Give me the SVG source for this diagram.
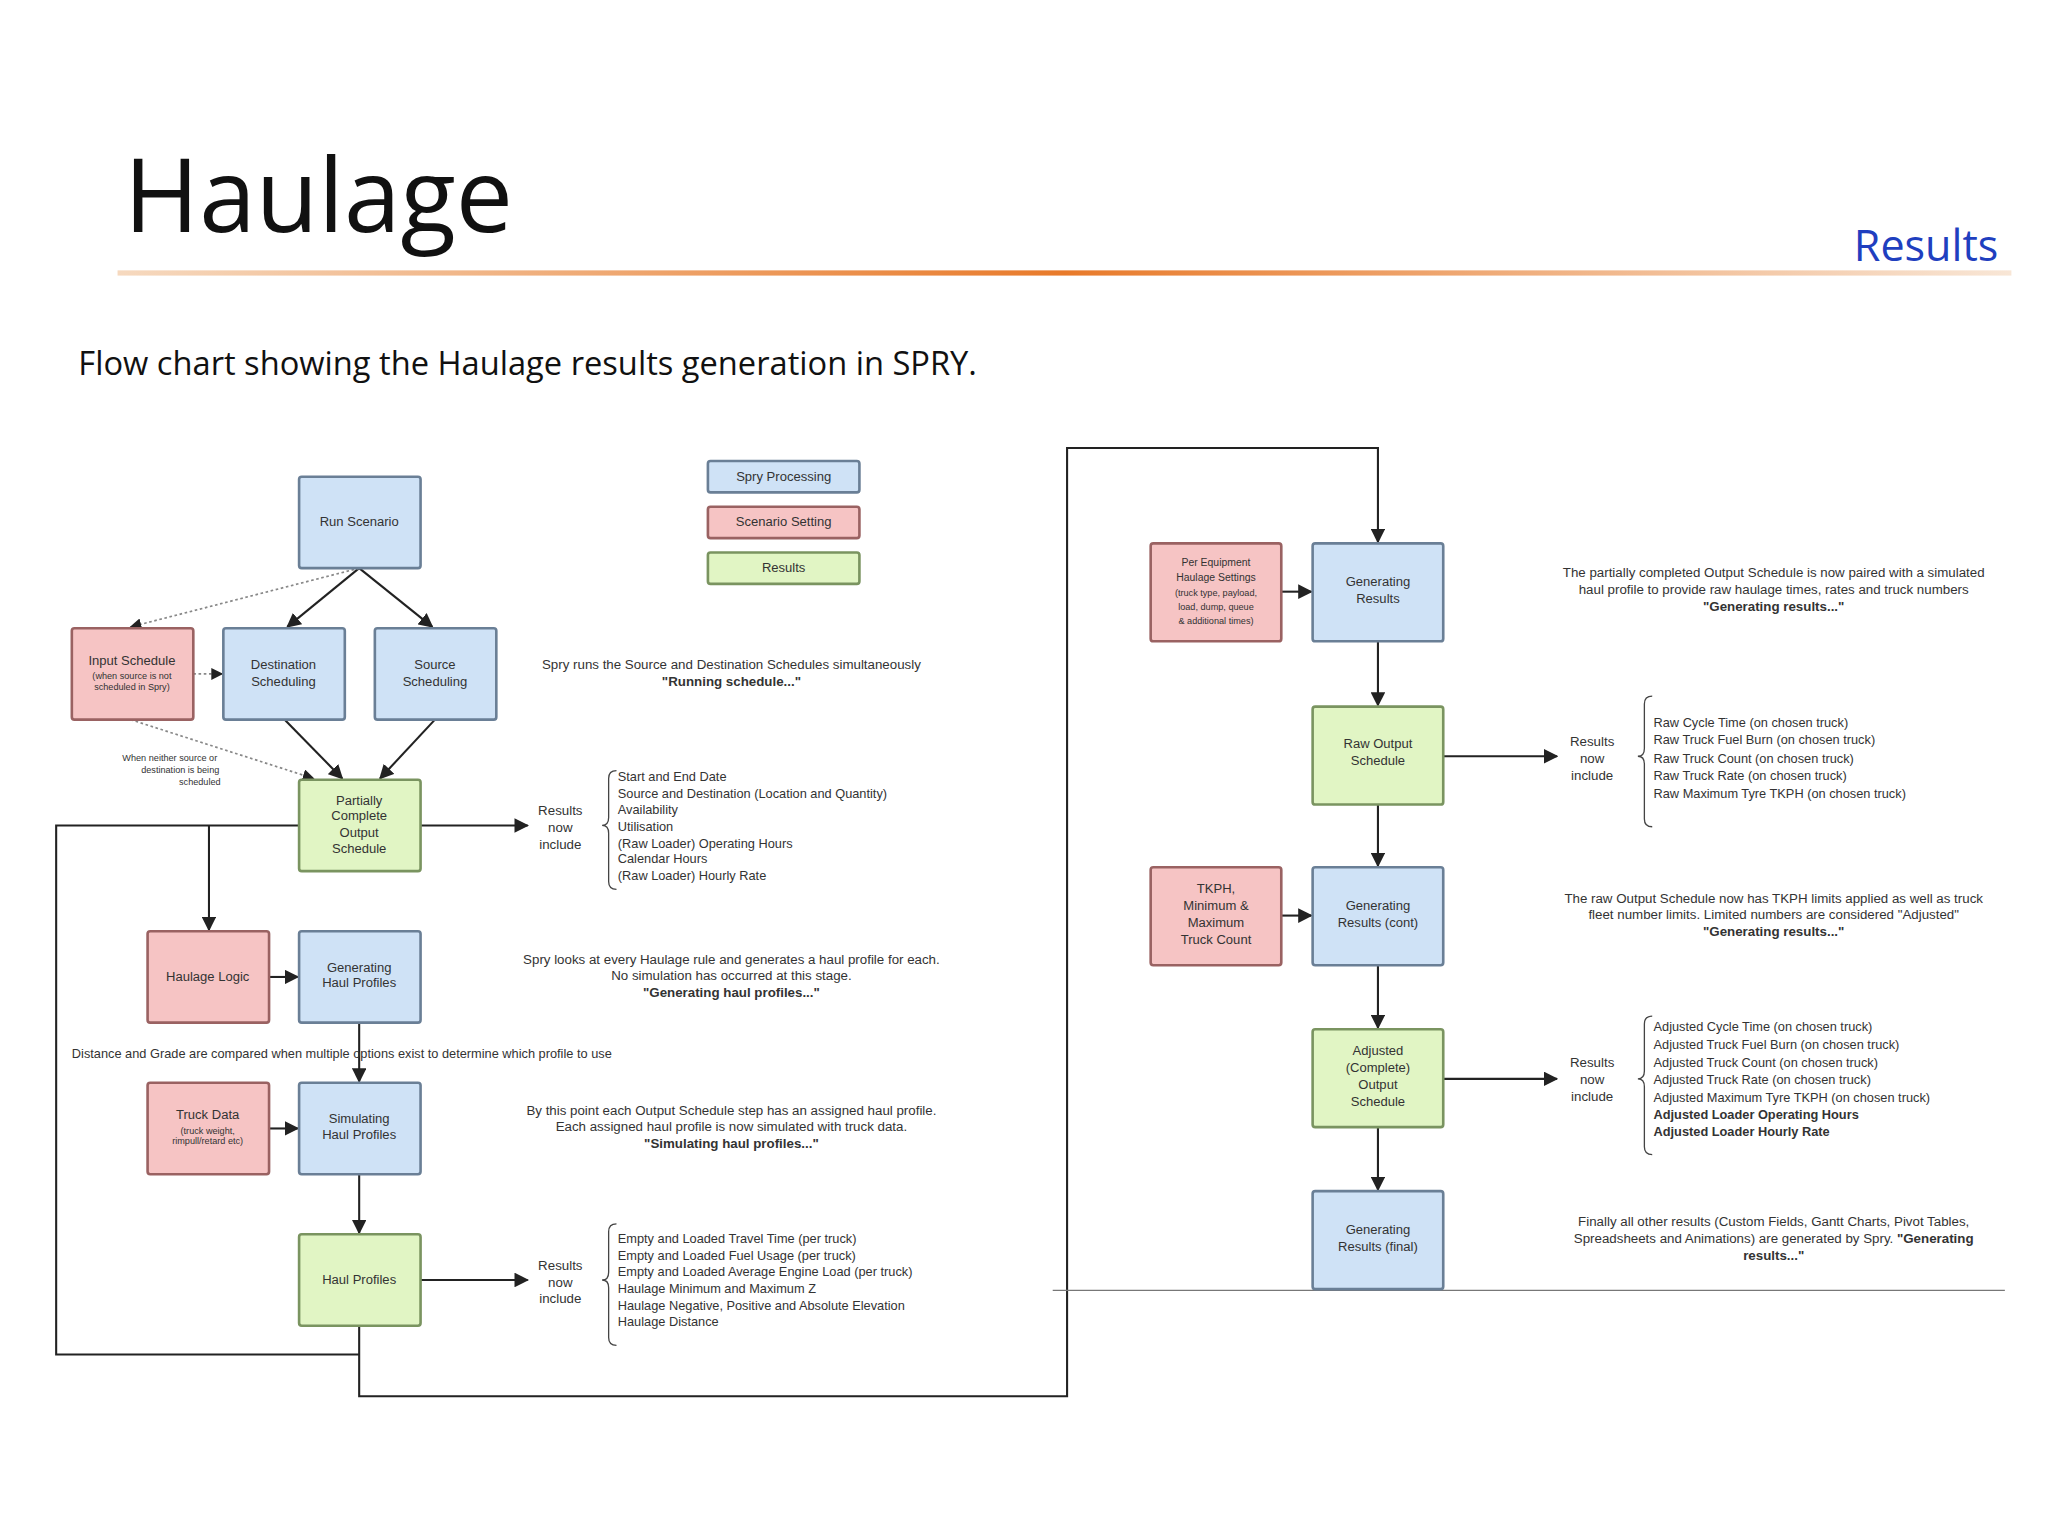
<svg xmlns="http://www.w3.org/2000/svg" width="2048" height="1536" viewBox="0 0 2048 1536">
<defs>
<linearGradient id="ln" x1="0" x2="1"><stop offset="0" stop-color="#f6d9bf"/><stop offset="0.5" stop-color="#e87a2a"/><stop offset="1" stop-color="#f8e6d6"/></linearGradient>
<marker id="a" viewBox="0 0 10 10" refX="9" refY="5" markerWidth="7" markerHeight="7" orient="auto"><path d="M0,0L10,5L0,10z" fill="#222"/></marker>
<style>
.b{fill:#cfe2f6;stroke:#6a7f96;stroke-width:2}
.p{fill:#f6c4c4;stroke:#9a6262;stroke-width:2}
.g{fill:#e1f5c4;stroke:#7a9460;stroke-width:2}
text{font-family:"Liberation Sans",Arial,sans-serif;fill:#333}
.h{font-family:"Open Sans","Noto Sans",sans-serif}
.n{font-size:10px;text-anchor:middle}
.s{font-size:7px;text-anchor:middle}
.t{font-size:9.8px}
.c{font-size:10.2px;text-anchor:middle}
.l{stroke:#222;stroke-width:1.6;fill:none}
.d{stroke:#888;stroke-width:1.3;fill:none;stroke-dasharray:2 2}
.br{stroke:#444;stroke-width:1;fill:none}
</style>
</defs>
<rect width="2048" height="1536" fill="#fff"/>
<g transform="scale(1.3061)">
<text class="h" x="95" y="178" style="font-size:78px;fill:#111">Haulage</text>
<text class="h" x="1530" y="200" text-anchor="end" style="font-size:33px;fill:#1f3fbf">Results</text>
<rect x="90" y="207" width="1450" height="4" fill="url(#ln)"/>
<text class="h" x="60" y="287" style="font-size:25px;fill:#111">Flow chart showing the Haulage results generation in SPRY.</text>

<g id="connectors">
<path class="l" d="M275,435L220,480" marker-end="url(#a)"/>
<path class="l" d="M275,435L331,480" marker-end="url(#a)"/>
<path class="d" d="M275,435L100,480" marker-end="url(#a)"/>
<path class="d" d="M148,516L170,516" marker-end="url(#a)"/>
<path class="l" d="M218,551L262,596" marker-end="url(#a)"/>
<path class="l" d="M333,551L291,596" marker-end="url(#a)"/>
<path class="d" d="M100,551L240,596" marker-end="url(#a)"/>
<path class="l" d="M322,632L404,632" marker-end="url(#a)"/>
<path class="l" d="M229,632H43V1037H275"/>
<path class="l" d="M160,632V712" marker-end="url(#a)"/>
<path class="l" d="M206,748H228" marker-end="url(#a)"/>
<path class="l" d="M275,783V828" marker-end="url(#a)"/>
<path class="l" d="M206,864H228" marker-end="url(#a)"/>
<path class="l" d="M275,899V944" marker-end="url(#a)"/>
<path class="l" d="M322,980H404" marker-end="url(#a)"/>
<path class="l" d="M275,1015V1069H817V343H1055V415" marker-end="url(#a)"/>
<path class="l" d="M981,453H1004" marker-end="url(#a)"/>
<path class="l" d="M1055,491V540" marker-end="url(#a)"/>
<path class="l" d="M1105,579H1192" marker-end="url(#a)"/>
<path class="l" d="M1055,616V663" marker-end="url(#a)"/>
<path class="l" d="M981,701H1004" marker-end="url(#a)"/>
<path class="l" d="M1055,739V787" marker-end="url(#a)"/>
<path class="l" d="M1105,826H1192" marker-end="url(#a)"/>
<path class="l" d="M1055,863V911" marker-end="url(#a)"/>
<path d="M806,988H1535" stroke="#777" stroke-width="1"/>
</g>

<g id="legend">
<rect class="b" x="542" y="353" width="116" height="24" rx="2"/><text class="n" x="600" y="368">Spry Processing</text>
<rect class="p" x="542" y="388" width="116" height="24" rx="2"/><text class="n" x="600" y="403">Scenario Setting</text>
<rect class="g" x="542" y="423" width="116" height="24" rx="2"/><text class="n" x="600" y="438">Results</text>
</g>

<g id="run"><rect class="b" x="229" y="365" width="93" height="70" rx="2"/><text class="n" x="275" y="403">Run Scenario</text></g>
<g id="input"><rect class="p" x="55" y="481" width="93" height="70" rx="2"/><text class="n" x="101" y="509">Input Schedule</text><text class="s" x="101" y="520">(when source is not</text><text class="s" x="101" y="528">scheduled in Spry)</text></g>
<g id="dest"><rect class="b" x="171" y="481" width="93" height="70" rx="2"/><text class="n" x="217" y="512">Destination</text><text class="n" x="217" y="525">Scheduling</text></g>
<g id="src"><rect class="b" x="287" y="481" width="93" height="70" rx="2"/><text class="n" x="333" y="512">Source</text><text class="n" x="333" y="525">Scheduling</text></g>
<text class="s" x="130" y="583">When neither source or</text><text class="s" x="138" y="592">destination is being</text><text class="s" x="153" y="601">scheduled</text>
<g id="partial"><rect class="g" x="229" y="597" width="93" height="70" rx="2"/><text class="n" x="275" y="616">Partially</text><text class="n" x="275" y="628">Complete</text><text class="n" x="275" y="641">Output</text><text class="n" x="275" y="653">Schedule</text></g>
<g id="hlogic"><rect class="p" x="113" y="713" width="93" height="70" rx="2"/><text class="n" x="159" y="751">Haulage Logic</text></g>
<g id="genhaul"><rect class="b" x="229" y="713" width="93" height="70" rx="2"/><text class="n" x="275" y="744">Generating</text><text class="n" x="275" y="756">Haul Profiles</text></g>
<g id="truck"><rect class="p" x="113" y="829" width="93" height="70" rx="2"/><text class="n" x="159" y="857">Truck Data</text><text class="s" x="159" y="868">(truck weight,</text><text class="s" x="159" y="876">rimpull/retard etc)</text></g>
<g id="sim"><rect class="b" x="229" y="829" width="93" height="70" rx="2"/><text class="n" x="275" y="860">Simulating</text><text class="n" x="275" y="872">Haul Profiles</text></g>
<g id="haul"><rect class="g" x="229" y="945" width="93" height="70" rx="2"/><text class="n" x="275" y="983">Haul Profiles</text></g>

<g id="perequip"><rect class="p" x="881" y="416" width="100" height="75" rx="2"/><text class="s" x="931" y="433" style="font-size:8px">Per Equipment</text><text class="s" x="931" y="445" style="font-size:8px">Haulage Settings</text><text class="s" x="931" y="456">(truck type, payload,</text><text class="s" x="931" y="467">load, dump, queue</text><text class="s" x="931" y="478">&amp; additional times)</text></g>
<g id="genres"><rect class="b" x="1005" y="416" width="100" height="75" rx="2"/><text class="n" x="1055" y="449">Generating</text><text class="n" x="1055" y="462">Results</text></g>
<g id="rawout"><rect class="g" x="1005" y="541" width="100" height="75" rx="2"/><text class="n" x="1055" y="573">Raw Output</text><text class="n" x="1055" y="586">Schedule</text></g>
<g id="tkph"><rect class="p" x="881" y="664" width="100" height="75" rx="2"/><text class="n" x="931" y="684">TKPH,</text><text class="n" x="931" y="697">Minimum &amp;</text><text class="n" x="931" y="710">Maximum</text><text class="n" x="931" y="723">Truck Count</text></g>
<g id="genres2"><rect class="b" x="1005" y="664" width="100" height="75" rx="2"/><text class="n" x="1055" y="697">Generating</text><text class="n" x="1055" y="710">Results (cont)</text></g>
<g id="adjout"><rect class="g" x="1005" y="788" width="100" height="75" rx="2"/><text class="n" x="1055" y="808">Adjusted</text><text class="n" x="1055" y="821">(Complete)</text><text class="n" x="1055" y="834">Output</text><text class="n" x="1055" y="847">Schedule</text></g>
<g id="genres3"><rect class="b" x="1005" y="912" width="100" height="75" rx="2"/><text class="n" x="1055" y="945">Generating</text><text class="n" x="1055" y="958">Results (final)</text></g>

<g id="notes">
<text class="c" x="560" y="512">Spry runs the Source and Destination Schedules simultaneously</text>
<text class="c" x="560" y="525" font-weight="bold">"Running schedule..."</text>
<text class="c" x="429" y="624">Results</text><text class="c" x="429" y="637">now</text><text class="c" x="429" y="650">include</text>
<path class="br" d="M472,590q-6,0-6,6v30q0,6-5,6q5,0,5,6v37q0,6,6,6"/>
<text class="t" x="473" y="598">Start and End Date</text>
<text class="t" x="473" y="611">Source and Destination (Location and Quantity)</text>
<text class="t" x="473" y="623">Availability</text>
<text class="t" x="473" y="636">Utilisation</text>
<text class="t" x="473" y="649">(Raw Loader) Operating Hours</text>
<text class="t" x="473" y="661">Calendar Hours</text>
<text class="t" x="473" y="674">(Raw Loader) Hourly Rate</text>
<text class="c" x="560" y="738">Spry looks at every Haulage rule and generates a haul profile for each.</text>
<text class="c" x="560" y="750">No simulation has occurred at this stage.</text>
<text class="c" x="560" y="763" font-weight="bold">"Generating haul profiles..."</text>
<text class="t" x="55" y="810">Distance and Grade are compared when multiple options exist to determine which profile to use</text>
<text class="c" x="560" y="854">By this point each Output Schedule step has an assigned haul profile.</text>
<text class="c" x="560" y="866">Each assigned haul profile is now simulated with truck data.</text>
<text class="c" x="560" y="879" font-weight="bold">"Simulating haul profiles..."</text>
<text class="c" x="429" y="972">Results</text><text class="c" x="429" y="985">now</text><text class="c" x="429" y="998">include</text>
<path class="br" d="M472,937q-6,0-6,6v31q0,6-5,6q5,0,5,6v38q0,6,6,6"/>
<text class="t" x="473" y="952">Empty and Loaded Travel Time (per truck)</text>
<text class="t" x="473" y="965">Empty and Loaded Fuel Usage (per truck)</text>
<text class="t" x="473" y="977">Empty and Loaded Average Engine Load (per truck)</text>
<text class="t" x="473" y="990">Haulage Minimum and Maximum Z</text>
<text class="t" x="473" y="1003">Haulage Negative, Positive and Absolute Elevation</text>
<text class="t" x="473" y="1015">Haulage Distance</text>

<text class="c" x="1358" y="442">The partially completed Output Schedule is now paired with a simulated</text>
<text class="c" x="1358" y="455">haul profile to provide raw haulage times, rates and truck numbers</text>
<text class="c" x="1358" y="468" font-weight="bold">"Generating results..."</text>
<text class="c" x="1219" y="571">Results</text><text class="c" x="1219" y="584">now</text><text class="c" x="1219" y="597">include</text>
<path class="br" d="M1265,533q-6,0-6,6v34q0,6-5,6q5,0,5,6v42q0,6,6,6"/>
<text class="t" x="1266" y="557">Raw Cycle Time (on chosen truck)</text>
<text class="t" x="1266" y="570">Raw Truck Fuel Burn (on chosen truck)</text>
<text class="t" x="1266" y="584">Raw Truck Count (on chosen truck)</text>
<text class="t" x="1266" y="597">Raw Truck Rate (on chosen truck)</text>
<text class="t" x="1266" y="611">Raw Maximum Tyre TKPH (on chosen truck)</text>
<text class="c" x="1358" y="691">The raw Output Schedule now has TKPH limits applied as well as truck</text>
<text class="c" x="1358" y="704">fleet number limits. Limited numbers are considered "Adjusted"</text>
<text class="c" x="1358" y="717" font-weight="bold">"Generating results..."</text>
<text class="c" x="1219" y="817">Results</text><text class="c" x="1219" y="830">now</text><text class="c" x="1219" y="843">include</text>
<path class="br" d="M1265,778q-6,0-6,6v36q0,6-5,6q5,0,5,6v46q0,6,6,6"/>
<text class="t" x="1266" y="789">Adjusted Cycle Time (on chosen truck)</text>
<text class="t" x="1266" y="803">Adjusted Truck Fuel Burn (on chosen truck)</text>
<text class="t" x="1266" y="817">Adjusted Truck Count (on chosen truck)</text>
<text class="t" x="1266" y="830">Adjusted Truck Rate (on chosen truck)</text>
<text class="t" x="1266" y="844">Adjusted Maximum Tyre TKPH (on chosen truck)</text>
<text class="t" x="1266" y="857" font-weight="bold">Adjusted Loader Operating Hours</text>
<text class="t" x="1266" y="870" font-weight="bold">Adjusted Loader Hourly Rate</text>
<text class="c" x="1358" y="939">Finally all other results (Custom Fields, Gantt Charts, Pivot Tables,</text>
<text class="c" x="1358" y="952">Spreadsheets and Animations) are generated by Spry. <tspan font-weight="bold">"Generating</tspan></text>
<text class="c" x="1358" y="965" font-weight="bold">results..."</text>
</g>
</g>
</svg>
